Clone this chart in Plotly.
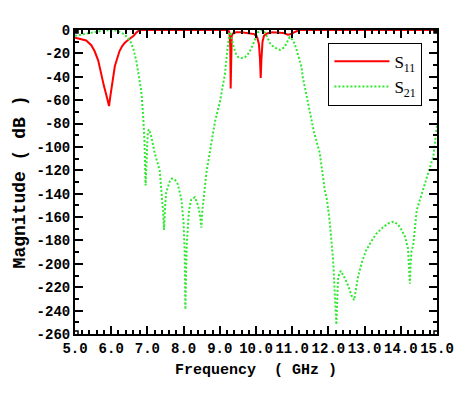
import plotly.graph_objects as go

# ---- data ----
s11_freq = [5.0, 5.15, 5.31, 5.45, 5.54, 5.64, 5.72, 5.80, 5.86, 5.91, 5.94, 5.97, 6.0, 6.05, 6.10,
            6.14, 6.23, 6.30, 6.37, 6.45, 6.55, 6.62, 6.69, 6.74, 6.78, 9.20, 9.25, 9.27, 9.29, 9.30,
            9.31, 9.33, 9.36, 9.45, 9.60, 9.80, 9.95, 10.03, 10.08, 10.11, 10.13, 10.15, 10.18, 10.22,
            10.30, 10.45, 10.60, 10.75, 10.88, 10.97, 11.05, 11.12, 11.20, 15.0]
s11_db = [-6.7, -7.5, -9, -13, -18, -26, -38, -48, -55, -61, -65, -58, -52, -38, -31,
          -27, -18, -14, -11, -9, -7, -5, -2.4, -1, 0, 0, -1, -3, -15, -50,
          -15, -5, -3, -2, -2, -2.5, -3.5, -6, -12, -25, -41, -25, -10, -5,
          -3, -2, -2, -2.5, -4, -3.5, -2, -0.8, 0, 0]

s21_freq = [5.0, 5.2, 5.4, 5.6, 5.77, 5.94, 6.14, 6.27, 6.37, 6.47, 6.55, 6.62, 6.69, 6.76, 6.83,
            6.88, 6.92, 6.95, 6.98, 7.01, 7.04, 7.10, 7.20, 7.34, 7.43, 7.46, 7.49, 7.52, 7.61, 7.68,
            7.76, 7.84, 7.94, 8.00, 8.03, 8.05, 8.07, 8.09, 8.15, 8.21, 8.31, 8.40, 8.46, 8.49, 8.52,
            8.57, 8.63, 8.77, 8.87, 8.95, 9.00, 9.07, 9.14, 9.22, 9.27, 9.30, 9.36, 9.44, 9.50, 9.60,
            9.69, 9.77, 9.85, 9.92, 10.0, 10.05, 10.15, 10.24, 10.31, 10.38, 10.45, 10.52, 10.60, 10.66,
            10.73, 10.80, 10.87, 10.93, 11.00, 11.07, 11.17, 11.26, 11.29, 11.40, 11.49, 11.60, 11.76,
            11.90, 11.96, 12.04, 12.13, 12.18, 12.22, 12.25, 12.27, 12.34, 12.45, 12.55, 12.65, 12.71,
            12.76, 12.82, 12.93, 13.05, 13.20, 13.33, 13.50, 13.65, 13.79, 13.92, 14.02, 14.12, 14.20,
            14.23, 14.25, 14.27, 14.30, 14.34, 14.44, 14.53, 14.71, 14.90, 15.0]
s21_db = [-5, -4, -3, -1.5, -0.5, 0, -0.5, -2, -4, -7, -11, -17, -26, -38, -52,
          -72, -95, -133, -100, -88, -85, -90, -105, -120, -154, -171, -150, -139, -130, -127,
          -128, -132, -145, -165, -190, -239, -205, -182, -154, -145, -143, -150, -160, -169, -154,
          -138, -122, -96, -78, -68, -62, -50, -38, -14, -2, -3, -12, -20, -23, -24,
          -23.5, -21, -17, -12, -6, -2, 0, -2, -6, -11, -13.5, -15, -16.5, -17,
          -16, -14, -9, -6, -8, -12, -22, -32, -40, -57, -72, -87, -105,
          -137, -145, -165, -197, -222, -252, -225, -211, -206, -212, -219, -228, -231,
          -222, -211, -198, -188, -180, -174, -169, -165.5, -164, -166, -171, -177, -187,
          -200, -217, -200, -188, -185, -154, -145, -128, -108, -82]

x_tick_vals = [5, 6, 7, 8, 9, 10, 11, 12, 13, 14, 15]
x_tick_text = ["5.0", "6.0", "7.0", "8.0", "9.0", "10.0", "11.0", "12.0", "13.0", "14.0", "15.0"]
y_tick_vals = [0, -20, -40, -60, -80, -100, -120, -140, -160, -180, -200, -220, -240, -260]
y_tick_text = ["0", "-20", "-40", "-60", "-80", "-100", "-120", "-140", "-160", "-180",
               "-200", "-220", "-240", "-260"]

MONO = "Liberation Mono"

fig = go.Figure()
fig.add_trace(go.Scatter(x=s11_freq, y=s11_db, mode="lines", name="S<sub>11</sub>",
                         line=dict(color="#ff0000", width=2)))
fig.add_trace(go.Scatter(x=s21_freq, y=s21_db, mode="lines", name="S<sub>21</sub>",
                         line=dict(color="#2ee82e", width=2, dash="2px,2px")))

axis_common = dict(showline=True, linecolor="black", linewidth=2, mirror="allticks",
                   ticks="inside", tickcolor="black", tickwidth=2, ticklen=8,
                   showgrid=False, zeroline=False, automargin=False, tickangle=0)

fig.update_xaxes(range=[5, 15], tickvals=x_tick_vals, ticktext=x_tick_text,
                 tickfont=dict(family=MONO, size=14, color="black", weight="bold"),
                 minor=dict(dtick=0.2, ticks="inside", ticklen=4, tickcolor="black", tickwidth=1.5),
                 title=dict(text="Frequency  ( GHz )", standoff=8,
                            font=dict(family=MONO, size=15, color="black", weight="bold")),
                 **axis_common)
fig.update_yaxes(range=[-260, 0], tickvals=y_tick_vals, ticktext=y_tick_text,
                 tickfont=dict(family=MONO, size=14, color="black", weight="bold"),
                 minor=dict(dtick=10, ticks="inside", ticklen=4, tickcolor="black", tickwidth=1.5),
                 title=dict(text="Magnitude ( dB )", standoff=6,
                            font=dict(family=MONO, size=18, color="black", weight="bold")),
                 **axis_common)

# corner markers
corners = [(5, 0, "black"), (15, 0, "black"), (5, -260, "white"), (15, -260, "white")]
for cx, cy, fillc in corners:
    fig.add_shape(type="rect", xref="x", yref="y", xsizemode="pixel", ysizemode="pixel",
                  xanchor=cx, yanchor=cy, x0=-3, x1=3, y0=-3, y1=3,
                  line=dict(color="black", width=1.5), fillcolor=fillc, layer="above")

# page body has an 8px default margin, so the figure is 8px smaller and shifted
fig.update_layout(
    width=466, height=387,
    margin=dict(l=67, r=37, t=22, b=61),
    paper_bgcolor="white", plot_bgcolor="white",
    showlegend=True,
    legend=dict(x=0.70, y=0.958, xanchor="left", yanchor="top",
                bgcolor="white", bordercolor="black", borderwidth=1,
                font=dict(family="Liberation Serif", size=17, color="black"),
                tracegroupgap=0, itemwidth=55),
)

fig.write_html("out.html")
